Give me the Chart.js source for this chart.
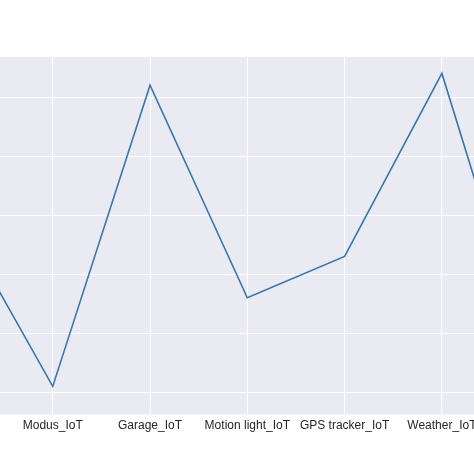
<!DOCTYPE html>
<html lang="en">
<head>
    <meta charset="UTF-8">
    <title>IoT line chart</title>
    <script src="https://cdn.jsdelivr.net/npm/chart.js"></script>
    <style>
        html, body { margin: 0; padding: 0; background: #ffffff; overflow: hidden; }
        #wrap { width: 474px; height: 474px; }
    </style>
</head>
<body>
    <div id="wrap"><canvas id="lineChart"></canvas></div>

    <script>
        // categories (the first and last sit outside the visible crop)
        const categories = ['', 'Modus_IoT', 'Garage_IoT', 'Motion light_IoT', 'GPS tracker_IoT', 'Weather_IoT', ''];
        // values
        const values = [4.04, 1.11, 6.21, 2.61, 3.31, 6.41, 1.08];
        // grid positions
        const xTicks = [1, 2, 3, 4, 5];
        const yTicks = [1, 2, 3, 4, 5, 6];

        // background of the plot area, seaborn style
        const plotBg = {
            id: 'plotBg',
            beforeDraw(chart) {
                const a = chart.chartArea;
                const ctx = chart.ctx;
                ctx.save();
                ctx.fillStyle = '#EAEAF2';
                ctx.fillRect(a.left, a.top, a.right - a.left, a.bottom - a.top);
                ctx.restore();
            }
        };

        function createChart() {
            const ctx = document.getElementById('lineChart').getContext('2d');
            new Chart(ctx, {
                type: 'line',
                data: {
                    datasets: [{
                        data: values.map((v, i) => ({ x: i, y: v })),
                        borderColor: '#3a76a8',
                        borderWidth: 1.6,
                        pointRadius: 0,
                        tension: 0,
                        fill: false
                    }]
                },
                options: {
                    responsive: true,
                    maintainAspectRatio: false,
                    animation: false,
                    layout: { padding: { left: 0, right: 0, top: 57, bottom: 37 } },
                    scales: {
                        x: {
                            type: 'linear',
                            min: 0.458,
                            max: 5.33,
                            afterBuildTicks(scale) {
                                scale.ticks = xTicks.map(v => ({ value: v }));
                            },
                            // the plot runs off both edges, so no room is kept for label overhang
                            afterFit(scale) {
                                scale.paddingLeft = 0;
                                scale.paddingRight = 0;
                            },
                            grid: { color: '#ffffff', lineWidth: 1, drawTicks: false },
                            border: { display: false },
                            ticks: {
                                padding: 4,
                                maxRotation: 0,
                                autoSkip: false,
                                color: '#262626',
                                font: { family: '"Liberation Sans", Arial, sans-serif', size: 12 },
                                callback: (v) => categories[v]
                            }
                        },
                        y: {
                            min: 0.632,
                            max: 6.688,
                            afterBuildTicks(scale) {
                                scale.ticks = yTicks.map(v => ({ value: v }));
                            },
                            grid: { color: '#ffffff', lineWidth: 1, drawTicks: false },
                            border: { display: false },
                            ticks: { display: false }
                        }
                    },
                    plugins: {
                        legend: { display: false },
                        tooltip: { enabled: false }
                    }
                },
                plugins: [plotBg]
            });
        }

        window.onload = createChart;
    </script>
</body>
</html>
